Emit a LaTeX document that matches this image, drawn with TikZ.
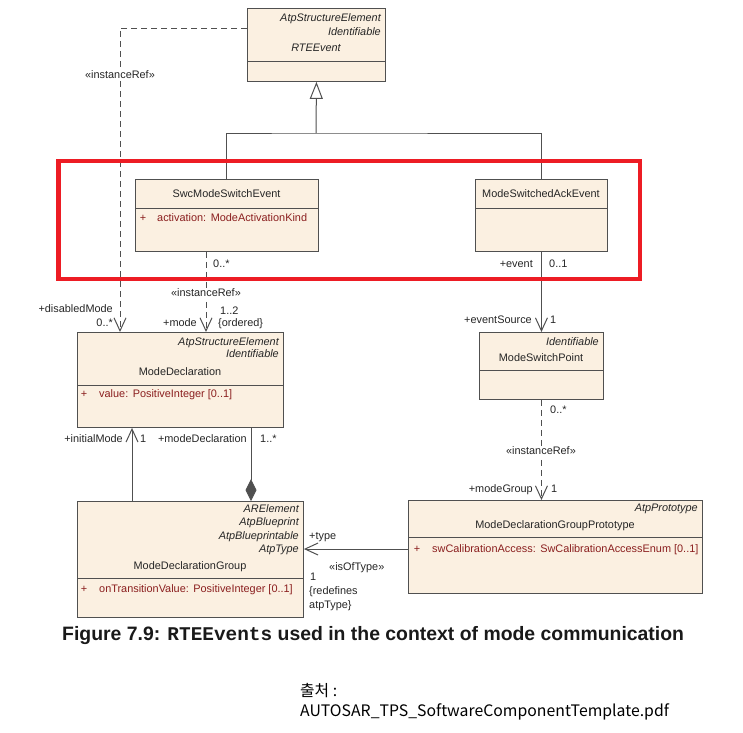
\documentclass[tikz,border=0pt]{standalone}
\usepackage{fontspec}
\setmainfont{Liberation Sans}
\setmonofont{Liberation Mono}
\newfontfamily\krfont{Noto Sans CJK KR}
\usetikzlibrary{arrows.meta}
\definecolor{clsfill}{HTML}{FBF0E1}
\definecolor{clsline}{HTML}{505050}
\definecolor{attrred}{HTML}{8B1F1F}
\definecolor{markred}{HTML}{ED1C24}
\newcommand{\umlsize}{\fontsize{10.9}{13}\selectfont}
\newcommand{\attrgap}{\hspace{4.5pt}}

\begin{document}
\begin{tikzpicture}[x=1pt,y=-1pt,
    cls/.style={draw=clsline, fill=clsfill, line width=0.9pt, anchor=north west, inner sep=0pt},
    txt/.style={font=\umlsize, inner sep=0pt, text height=7.8pt, text depth=0pt, text=black!85},
    stereo/.style={txt, font=\umlsize\itshape, anchor=east},
    attr/.style={txt, text=attrred, anchor=west},
    lbleast/.style={txt, anchor=east},
    lblwest/.style={txt, anchor=west},
    refname/.style={txt, fill=white, inner sep=1pt},
    assoc/.style={draw=clsline, line width=1pt},
    ref/.style={assoc, dash pattern=on 6pt off 4pt},
    nav/.style={-{Straight Barb[length=13pt,width=12pt]}}]
  \useasboundingbox (0,0) rectangle (743,732);

  % classes
  \node (rte) at (247,8) [cls, minimum width=138pt, minimum height=73pt] {};
  \node (swc) at (135,179) [cls, minimum width=183pt, minimum height=72pt] {};
  \node (ack) at (475,179) [cls, minimum width=132pt, minimum height=72pt] {};
  \node (md) at (77,332) [cls, minimum width=206pt, minimum height=95pt] {};
  \node (msp) at (479,332) [cls, minimum width=124pt, minimum height=67pt] {};
  \node (mdg) at (77,501) [cls, minimum width=226pt, minimum height=116pt] {};
  \node (mdgp) at (408,500) [cls, minimum width=294pt, minimum height=93pt] {};
  \draw[clsline, line width=0.9pt] (247,61) -- ++(138,0) (135,208) -- ++(183,0)
    (475,208) -- ++(132,0) (77,385) -- ++(206,0) (479,370) -- ++(124,0)
    (77,578) -- ++(226,0) (408,537) -- ++(294,0);

  \node (rteSa) at (381,18) [stereo] {AtpStructureElement};
  \node (rteSb) at (381,32) [stereo] {Identifiable};
  \node (rteN) at (316,48) [txt, font=\umlsize\itshape] {RTEEvent};
  \node (swcN) at (226.5,194) [txt] {SwcModeSwitchEvent};
  \node (swcP) at (143,218) [attr, anchor=center] {+};
  \node (swcA) at (157,218) [attr] {activation:\attrgap ModeActivationKind};
  \node (ackN) at (541,194) [txt] {ModeSwitchedAckEvent};
  \node (mdSa) at (279,342) [stereo] {AtpStructureElement};
  \node (mdSb) at (279,354) [stereo] {Identifiable};
  \node (mdN) at (180,372) [txt] {ModeDeclaration};
  \node (mdP) at (84,394) [attr, anchor=center] {+};
  \node (mdA) at (99,394) [attr] {value:\attrgap PositiveInteger [0..1]};
  \node (mspS) at (599,342) [stereo] {Identifiable};
  \node (mspN) at (541,358) [txt] {ModeSwitchPoint};
  \node (mdgSa) at (299,509) [stereo] {ARElement};
  \node (mdgSb) at (299,522) [stereo] {AtpBlueprint};
  \node (mdgSc) at (299,536) [stereo] {AtpBlueprintable};
  \node (mdgSd) at (299,549) [stereo] {AtpType};
  \node (mdgN) at (190,566) [txt] {ModeDeclarationGroup};
  \node (mdgP) at (84,589) [attr, anchor=center] {+};
  \node (mdgA) at (99,589) [attr] {onTransitionValue:\attrgap PositiveInteger [0..1]};
  \node (mdgpS) at (698,508) [stereo] {AtpPrototype};
  \node (mdgpN) at (555,525) [txt] {ModeDeclarationGroupPrototype};
  \node (mdgpP) at (417,549) [attr, anchor=center] {+};
  \node (mdgpA) at (432,549) [attr] {swCalibrationAccess:\attrgap SwCalibrationAccessEnum [0..1]};

  % connectors
  \coordinate (bar) at (316,133);
  \draw[assoc] (swc.north) |- (bar) -| (ack.north);
  \draw[assoc, -{Triangle[open, length=17pt, width=13pt]}, fill=white] (bar) -- (rte.south);

  \coordinate (dmBend) at (120,28);
  \draw[ref, nav] (rte.west |- dmBend) -- (dmBend) -- (dmBend |- md.north);
  \node (dmRef) at (120,75) [refname] {«instanceRef»};
  \node (dmRole) at (113,309) [lbleast] {+disabledMode};
  \node (dmMult) at (113,323) [lbleast] {0..*};

  \coordinate (modeX) at (206,0);
  \draw[ref, nav] (swc.south -| modeX) -- (md.north -| modeX);
  \node (modeSrc) at (213,264) [lblwest] {0..*};
  \node (modeRef) at (206,293) [refname] {«instanceRef»};
  \node (modeMult) at (220,311) [lblwest] {1..2};
  \node (modeOrd) at (218,323) [lblwest] {\{ordered\}};
  \node (modeRole) at (197,323) [lbleast] {+mode};

  \draw[assoc, nav] (ack.south) -- (msp.north);
  \node (evRole) at (533,264) [lbleast] {+event};
  \node (evMult) at (549,264) [lblwest] {0..1};
  \node (srcRole) at (532,320) [lbleast] {+eventSource};
  \node (srcMult) at (550,320) [lblwest] {1};

  \draw[ref, nav] (msp.south) -- (msp.south |- mdgp.north);
  \node (grpSrc) at (550,410) [lblwest] {0..*};
  \node (grpRef) at (541,451) [refname] {«instanceRef»};
  \node (grpRole) at (533,489) [lbleast] {+modeGroup};
  \node (grpMult) at (551,489) [lblwest] {1};

  \coordinate (initX) at (132,0);
  \draw[assoc, nav] (mdg.north -| initX) -- (md.south -| initX);
  \node (initRole) at (123,439) [lbleast] {+initialMode};
  \node (initMult) at (140,439) [lblwest] {1};

  \coordinate (compX) at (251,0);
  \draw[assoc, -{Diamond[length=22pt, width=11pt]}] (md.south -| compX) -- (mdg.north -| compX);
  \node (compRole) at (247,439) [lbleast] {+modeDeclaration};
  \node (compMult) at (260,439) [lblwest] {1..*};

  \coordinate (typeY) at (0,549);
  \draw[assoc, nav] (mdgp.west |- typeY) -- (mdg.east |- typeY);
  \node (typeRole) at (309,536) [lblwest] {+type};
  \node (typeSt) at (329,567) [lblwest] {«isOfType»};
  \node (typeMult) at (310,577) [lblwest] {1};
  \node (typeRedA) at (309,591) [lblwest] {\{redefines};
  \node (typeRedB) at (309,605) [lblwest] {atpType\}};

  % highlight
  \draw[markred, line width=4.5pt] (58.5,161) rectangle (640,279);

  % caption and source
  \node (caption) at (62,636) [anchor=west, inner sep=0pt, font=\fontsize{19.4}{22}\selectfont\bfseries, text=black!90]
    {Figure 7.9: \texttt{RTEEvents} used in the context of mode communication};
  \node (srcA) at (300,691) [anchor=west, inner sep=0pt, font=\krfont\fontsize{15.8}{18}\selectfont] {출처 :};
  \node (srcB) at (300,712) [anchor=west, inner sep=0pt, font=\krfont\fontsize{15.8}{18}\selectfont] {AUTOSAR\_TPS\_SoftwareComponentTemplate.pdf};
\end{tikzpicture}
\end{document}
